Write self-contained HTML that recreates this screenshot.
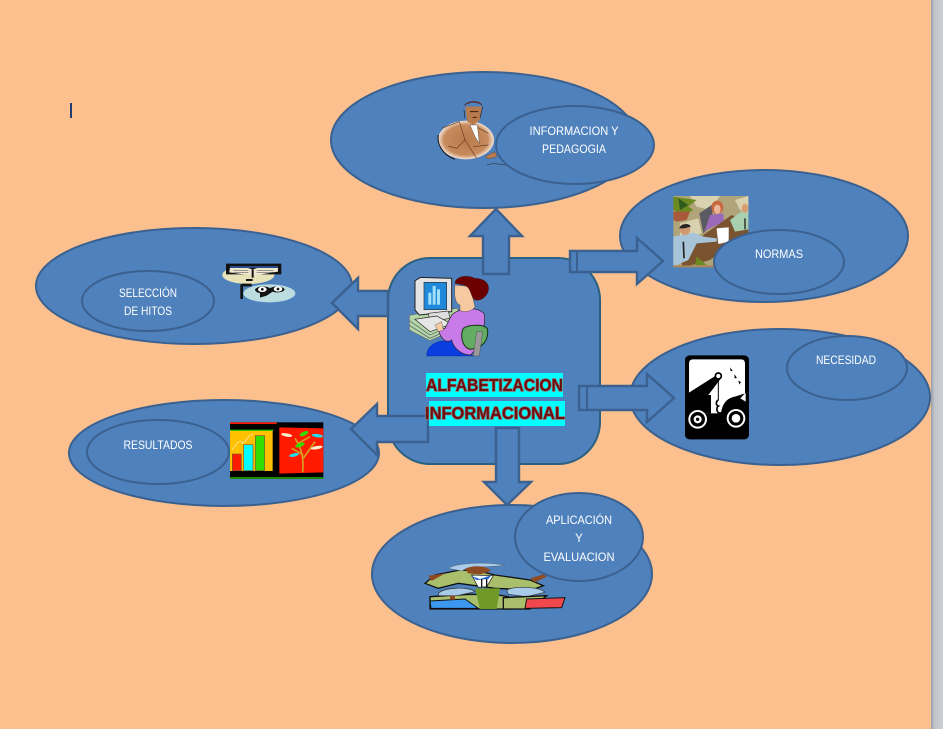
<!DOCTYPE html>
<html><head><meta charset="utf-8"><style>
html,body{margin:0;padding:0;background:#FBC08D;width:943px;height:729px;overflow:hidden}
svg{display:block}
text{font-family:"Liberation Sans",sans-serif}
.l{fill:#fff;font-size:11.6px;text-anchor:middle}
.e{fill:#4F81BD;stroke:#3A6190;stroke-width:2}
.a{fill:#4F81BD;stroke:#3A6190;stroke-width:2.4}
.t{font-weight:bold;font-size:17.5px;fill:#6B0F0F;stroke:#9a6a6a;stroke-width:1.4;paint-order:stroke}
</style></head><body>
<svg width="943" height="729" viewBox="0 0 943 729" xmlns="http://www.w3.org/2000/svg">
<defs>
<linearGradient id="g" x1="0" x2="1"><stop offset="0" stop-color="#9aa0a8"/><stop offset=".3" stop-color="#c0c5cb"/><stop offset="1" stop-color="#ccd0d5"/></linearGradient>
<radialGradient id="m"><stop offset="0" stop-color="#b87a4c"/><stop offset=".78" stop-color="#c68a5c"/><stop offset="1" stop-color="#f3e2d4"/></radialGradient>
</defs>
<rect width="943" height="729" fill="#FBC08D"/>
<rect x="931" y="0" width="12" height="729" fill="url(#g)"/>
<rect x="70" y="103" width="2" height="15" fill="#1F3F73"/>

<ellipse class="e" cx="484" cy="140" rx="153" ry="68"/>
<ellipse class="e" cx="764" cy="236" rx="144" ry="66"/>
<ellipse class="e" cx="194" cy="286" rx="158" ry="58"/>
<ellipse class="e" cx="224" cy="453" rx="155" ry="53"/>
<ellipse class="e" cx="780" cy="397" rx="150" ry="68"/>
<ellipse class="e" cx="512" cy="574" rx="140" ry="69"/>

<rect x="388" y="258" width="212" height="206" rx="42" fill="#4F81BD" stroke="#2A6080" stroke-width="2"/>

<!-- arrows -->
<polygon class="a" points="483,274 483,236 470,236 496,209 522,236 509,236 509,274"/>
<polygon class="a" points="570,251 637,251 637,238 663,261 637,284 637,272 570,272"/>
<line x1="577" y1="251" x2="577" y2="272" stroke="#3A6190" stroke-width="2"/>
<polygon class="a" points="388,291 358,291 358,278 332,303 358,329 358,316 388,316"/>
<polygon class="a" points="579,386 647,386 647,374 674,398 647,422 647,410 579,410"/>
<line x1="587" y1="386" x2="587" y2="410" stroke="#3A6190" stroke-width="2"/>
<polygon class="a" points="428,416 377,416 377,404 351,429 377,455 377,442 428,442"/>
<polygon class="a" points="496,428 519,428 519,482 531,482 507,505 484,482 496,482"/>

<!-- man clipart -->
<g transform="translate(420,90) scale(.3333)">
<ellipse cx="138" cy="150" rx="84" ry="58" fill="url(#m)"/>
<path d="M55 135C50 165 70 195 105 208" fill="none" stroke="#111" stroke-width="3"/>
<path d="M118 95 L65 115M118 95L135 150L110 175 L85 168M160 105L205 130M135 150L170 205M205 165L160 170" fill="none" stroke="#6a3a1c" stroke-width="2"/>
<path d="M150 105L172 105L178 160L165 140Z" fill="#fff" stroke="#222"/>
<path d="M136 50L185 50L180 90L160 105L142 95Z" fill="#b87a4c"/>
<path d="M132 48C140 30 180 30 187 46L180 42C165 34 145 36 132 48Z" fill="#7a1a10" stroke="#333"/>
<path d="M132 60L135 85M188 50L180 85" stroke="#222" stroke-width="2" fill="none"/>
<path d="M150 65h25M158 82h12" stroke="#3a2010" stroke-width="3"/>
<path d="M195 200L225 185L232 200L205 207Z" fill="#b87a4c" stroke="#333"/>
<path d="M200 225C225 215 250 228 275 225" fill="none" stroke="#333" stroke-width="2"/>
</g>

<!-- meeting clipart -->
<g transform="translate(660,190) scale(.3333)">
<rect x="40" y="18" width="225" height="214" fill="#B0A47A"/>
<polygon points="90,18 180,18 150,60 110,50" fill="#D8D2B0"/>
<polygon points="225,30 265,18 265,70 240,60" fill="#D8D2B0"/>
<polygon points="60,100 115,85 125,130 60,150" fill="#D8D2B0"/>
<path d="M40 20L110 30L85 50L100 60L70 75L40 60Z" fill="#6C8A22"/>
<path d="M55 25L85 45L60 60Z" fill="#2E5A1E"/>
<path d="M40 65L90 65L80 90L50 95L40 90Z" fill="#A85A3A"/>
<polygon points="118,70 155,45 160,100 130,130" fill="#5A5A62"/>
<path d="M135 120L150 75L190 70L192 95L130 125Z" fill="#9A6AB8"/>
<ellipse cx="172" cy="52" rx="18" ry="20" fill="#C9683E"/>
<ellipse cx="172" cy="58" rx="10" ry="14" fill="#E8B898"/>
<path d="M130 135L215 75L265 100L265 130L150 210L70 232L60 210Z" fill="#7A5430"/>
<path d="M210 90L250 60L265 60L265 118L225 125Z" fill="#A8D0B0"/>
<ellipse cx="255" cy="55" rx="10" ry="14" fill="#D8A070"/>
<path d="M255 85V118" stroke="#222" stroke-width="4"/>
<path d="M40 140L100 128L130 140L170 145L170 155L110 160L85 210L40 230Z" fill="#A8C4D8"/>
<ellipse cx="75" cy="118" rx="16" ry="17" fill="#D09A70"/>
<path d="M58 115C60 100 90 98 92 110L72 115Z" fill="#222"/>
<path d="M70 155L72 205" stroke="#222" stroke-width="5"/>
<polygon points="170,115 206,112 206,155 175,162" fill="#fff" stroke="#bbb"/>
<path d="M110 200L140 225L105 225Z" fill="#6C8A22"/>
<rect x="40" y="226" width="225" height="6" fill="#A8845A"/>
</g>

<!-- book clipart -->
<g transform="translate(210,255) scale(.3333)">
<ellipse cx="115" cy="60" rx="78" ry="27" fill="#E8E2B8"/>
<ellipse cx="178" cy="115" rx="78" ry="27" fill="#BBDDE0"/>
<path d="M48 26H214V58H48Z" fill="#111"/>
<path d="M60 36C85 32 110 36 128 44C150 34 180 32 204 34V50L128 62L58 52Z" fill="#EFE8D0"/>
<path d="M60 33h144v6H60z" fill="#2B4A8A"/>
<path d="M128 44V68" stroke="#111" stroke-width="6"/>
<path d="M70 46h45M70 52h45M140 46h50M140 52h50" stroke="#666" stroke-width="2"/>
<path d="M95 90h30M95 88v44" stroke="#111" stroke-width="8" fill="none"/>
<path d="M108 75h20" stroke="#111" stroke-width="6"/>
<path d="M135 104C140 92 172 92 180 100C190 92 220 92 224 104C220 112 200 115 188 110L170 122L150 128V114C142 114 136 110 135 104Z" fill="#111"/>
<ellipse cx="157" cy="103" rx="13" ry="8" fill="#fff"/>
<ellipse cx="204" cy="102" rx="13" ry="8" fill="#fff"/>
<circle cx="157" cy="103" r="4" fill="#111"/><circle cx="204" cy="102" r="4" fill="#111"/>
</g>

<!-- chart clipart -->
<g transform="translate(220,415) scale(.3333)">
<rect x="30" y="22" width="280" height="170" fill="#000"/>
<rect x="30" y="22" width="140" height="5" fill="#FF1A00"/>
<rect x="30" y="44" width="130" height="4" fill="#33CC00"/>
<rect x="30" y="187" width="280" height="4" fill="#33CC00"/>
<rect x="30" y="48" width="128" height="120" fill="#FFC000"/>
<path d="M35 105C50 90 55 70 70 85C85 70 85 60 100 58" fill="none" stroke="#fff2c0" stroke-width="2"/>
<rect x="37" y="117" width="27" height="50" fill="#FF1A00" stroke="#7a5a30" stroke-width="2"/>
<rect x="71" y="89" width="28" height="78" fill="#00FFFF" stroke="#7a5a30" stroke-width="2"/>
<rect x="106" y="62" width="28" height="105" fill="#33DD00" stroke="#7a5a30" stroke-width="2"/>
<polygon points="178,37 310,40 310,172 178,176" fill="#FF1A00"/>
<path d="M248 172C252 130 245 100 225 70M250 130L285 80M250 120L215 100M235 85L270 65" fill="none" stroke="#D8A020" stroke-width="5"/>
<ellipse cx="252" cy="56" rx="14" ry="6" fill="#33DD00" transform="rotate(-25 252 56)"/>
<ellipse cx="200" cy="60" rx="17" ry="5" fill="#FFF0D0" transform="rotate(10 200 60)"/>
<ellipse cx="292" cy="62" rx="17" ry="5" fill="#22DDEE" transform="rotate(8 292 62)"/>
<ellipse cx="290" cy="98" rx="18" ry="5" fill="#FFF0D0" transform="rotate(-10 290 98)"/>
<ellipse cx="240" cy="90" rx="15" ry="6" fill="#33DD00" transform="rotate(-20 240 90)"/>
<ellipse cx="222" cy="120" rx="15" ry="5" fill="#22DDEE" transform="rotate(-12 222 120)"/>
</g>

<!-- tow truck clipart -->
<g transform="translate(675,350) scale(.3333)">
<rect x="30" y="16" width="192" height="252" rx="14" fill="#000"/>
<path d="M42 40Q42 28 54 28H198Q210 28 210 40V215H42Z" fill="#fff"/>
<path d="M42 128L130 72L138 85L100 135H108V190H42Z" fill="#000"/>
<path d="M130 78V150" stroke="#000" stroke-width="3"/>
<circle cx="130" cy="78" r="9" fill="#fff" stroke="#000" stroke-width="5"/>
<path d="M130 150C122 155 122 165 130 168C122 172 125 195 140 188" fill="none" stroke="#000" stroke-width="5"/>
<path d="M138 215C135 170 150 145 180 140L210 130V215Z" fill="#000"/>
<path d="M196 145L212 128V155Z" fill="#fff"/>
<rect x="42" y="190" width="168" height="30" fill="#000"/>
<circle cx="68" cy="208" r="28" fill="#fff"/><circle cx="68" cy="208" r="22" fill="#000"/><circle cx="68" cy="208" r="12" fill="#fff"/><circle cx="68" cy="208" r="5" fill="#000"/>
<circle cx="183" cy="205" r="28" fill="#fff"/><circle cx="183" cy="205" r="22" fill="#000"/><circle cx="183" cy="205" r="13" fill="#fff"/>
<path d="M165 52l8 10-6 2zM178 72l8 12-7 1zM190 92l8 4-5 8z" fill="#000"/>
</g>

<!-- people clipart -->
<g transform="translate(415,555) scale(.3333)">
<path d="M30 85L60 60L135 45L190 48L240 60L345 75L385 92L350 105L240 100L130 85L70 100Z" fill="#A9BF6B" stroke="#111" stroke-width="4"/>
<path d="M40 62L90 55L50 78Z" fill="#8E4A20"/>
<path d="M345 70L385 58L395 65L360 82Z" fill="#8E4A20"/>
<path d="M100 40C125 22 230 20 270 32L160 38L140 48Z" fill="#A8CBEA" stroke="#444"/>
<path d="M150 42C170 30 215 30 228 48L195 58L160 55Z" fill="#8E4A20"/>
<path d="M170 60L235 62L215 95L190 97Z" fill="#fff" stroke="#111" stroke-width="2"/>
<path d="M165 62L195 72L230 60L220 72L185 75Z" fill="#2266CC"/>
<path d="M200 72V97M215 72V97" stroke="#111" stroke-width="4"/>
<path d="M45 125L165 118L250 120L280 125L290 162H45Z" fill="#A9BF6B" stroke="#111" stroke-width="4"/>
<path d="M180 100L255 100L245 162H195Z" fill="#6F9A28"/>
<path d="M70 115C90 95 165 95 180 110L125 122L72 122Z" fill="#A8CBEA" stroke="#333" stroke-width="2"/>
<path d="M275 105C300 92 375 95 390 112L335 125L280 118Z" fill="#A8CBEA" stroke="#333" stroke-width="2"/>
<path d="M265 128L395 122L345 162H265Z" fill="#A9BF6B" stroke="#111" stroke-width="4"/>
<path d="M45 138L150 132L190 160H48Z" fill="#3B98EE" stroke="#111" stroke-width="3"/>
<path d="M335 132L450 128L440 158L330 160Z" fill="#F0484C" stroke="#111" stroke-width="3"/>
<path d="M105 122h15v12h-15z" fill="#8E4A20"/>
</g>

<!-- woman clipart -->
<g transform="translate(380,250) scale(.3333)">
<path d="M88 196L180 180L235 175L222 240L150 272L88 240Z" fill="#B3D6A6" stroke="#667" stroke-width="2"/>
<path d="M88 212L150 255L222 222M88 226L150 265L222 232" fill="none" stroke="#556" stroke-width="2"/>
<path d="M105 92L122 82L215 85L215 185L118 195L105 180Z" fill="#E4E4E4" stroke="#222" stroke-width="3"/>
<rect x="132" y="97" width="68" height="82" fill="#1F8ADC" stroke="#333" stroke-width="2"/>
<rect x="145" y="128" width="9" height="36" fill="#9FE0F8"/>
<rect x="158" y="108" width="9" height="56" fill="#9FE0F8"/>
<rect x="171" y="118" width="9" height="46" fill="#9FE0F8"/>
<path d="M145 190L205 183L210 205L150 215Z" fill="#ddd" stroke="#333" stroke-width="2"/>
<path d="M105 208L170 198L215 222L150 245Z" fill="#E6E6E6" stroke="#222" stroke-width="2"/>
<path d="M140 318C140 285 170 268 220 272L280 318Z" fill="#0A3EE0" stroke="#001a80"/>
<path d="M215 195C235 175 290 168 312 190C320 220 300 290 272 315C245 315 220 295 215 270C200 280 185 272 175 240L195 235Z" fill="#C77AE8" stroke="#222" stroke-width="2"/>
<path d="M165 225L185 215L190 240L175 245Z" fill="#F5C8A0" stroke="#333"/>
<path d="M225 105C222 135 225 160 240 165V182C260 190 280 180 285 170L270 110Z" fill="#F7C9A0" stroke="#222"/>
<path d="M225 100C225 80 260 72 285 85C300 85 325 90 326 115C326 135 305 155 285 150C270 140 275 110 250 105Z" fill="#6B0000" stroke="#222"/>
<path d="M250 235C270 222 320 222 323 240C325 270 310 295 270 298C245 290 240 255 250 235Z" fill="#62AD62" stroke="#113311" stroke-width="3"/>
<polygon points="290,245 308,245 298,318 280,318" fill="#999" stroke="#333"/>
</g>

<ellipse class="e" cx="575" cy="145" rx="79" ry="39"/>
<ellipse class="e" cx="779" cy="262" rx="65" ry="32"/>
<ellipse class="e" cx="148" cy="301" rx="66" ry="30"/>
<ellipse class="e" cx="158" cy="452" rx="71" ry="32"/>
<ellipse class="e" cx="847" cy="368" rx="60" ry="32"/>
<ellipse class="e" cx="579" cy="537" rx="64" ry="44"/>

<text class="l" x="574" y="135" textLength="89" lengthAdjust="spacingAndGlyphs">INFORMACION Y</text>
<text class="l" x="574" y="153" textLength="64" lengthAdjust="spacingAndGlyphs">PEDAGOGIA</text>
<text class="l" x="779" y="258" textLength="48" lengthAdjust="spacingAndGlyphs">NORMAS</text>
<text class="l" x="148" y="297" textLength="58" lengthAdjust="spacingAndGlyphs">SELECCIÓN</text>
<text class="l" x="148" y="315" textLength="48" lengthAdjust="spacingAndGlyphs">DE HITOS</text>
<text class="l" x="158" y="449" textLength="69" lengthAdjust="spacingAndGlyphs">RESULTADOS</text>
<text class="l" x="846" y="364" textLength="60" lengthAdjust="spacingAndGlyphs">NECESIDAD</text>
<text class="l" x="579" y="524" textLength="66" lengthAdjust="spacingAndGlyphs">APLICACIÓN</text>
<text class="l" x="579" y="542">Y</text>
<text class="l" x="579" y="561" textLength="71" lengthAdjust="spacingAndGlyphs">EVALUACION</text>

<rect x="426" y="373" width="137" height="24" fill="#00FFFF"/>
<rect x="429" y="401" width="136" height="25" fill="#00FFFF"/>
<text class="t" x="426" y="391" textLength="137" lengthAdjust="spacingAndGlyphs">ALFABETIZACION</text>
<text class="t" x="425" y="419" textLength="140" lengthAdjust="spacingAndGlyphs">INFORMACIONAL</text>
</svg>
</body></html>
